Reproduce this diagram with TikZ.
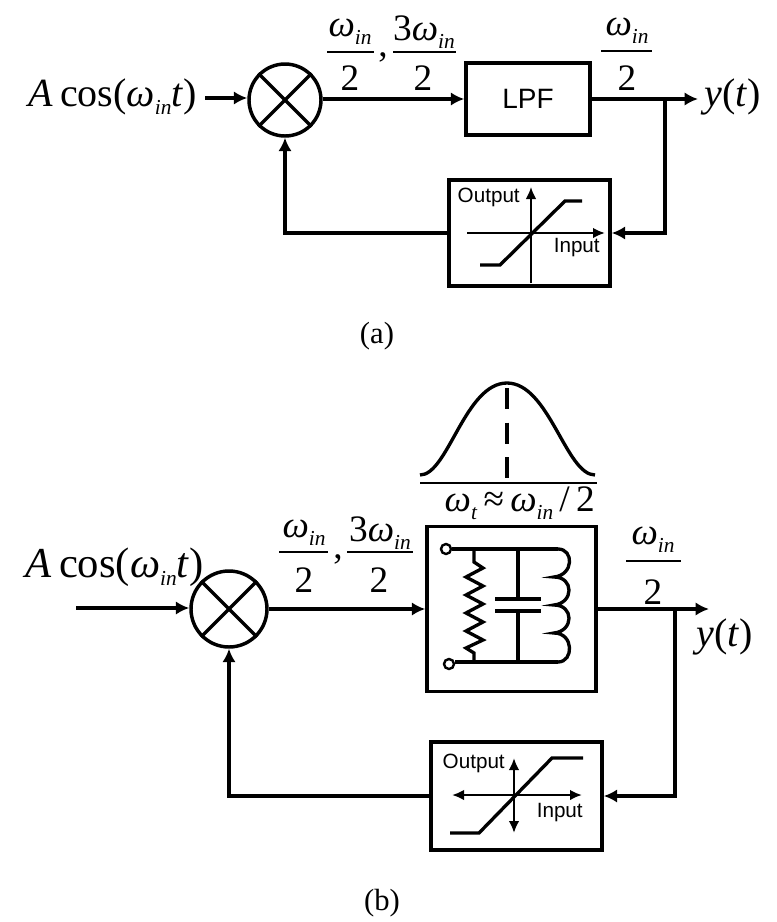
\documentclass[tikz,border=0pt]{standalone}
\usepackage{fontspec}
\setmainfont{Liberation Serif}
\setsansfont{Liberation Sans}
\usetikzlibrary{arrows.meta}
\newcommand{\wsub}[1]{\textit{ω}\raisebox{-6pt}{\fontsize{16}{16}\selectfont\textit{#1}}}
\tikzset{
  wire/.style={line width=2.5pt},
  thickwire/.style={line width=3pt},
  arr/.style={wire,-{Latex[length=10pt,width=10pt]}},
  axisline/.style={line width=1.8pt,-{Latex[length=9pt,width=8pt]}},
  axisboth/.style={line width=1.9pt,{Latex[length=9pt,width=8pt]}-{Latex[length=9pt,width=8pt]}},
  fracbar/.style={line width=1.7pt},
  blockbox/.style={draw,line width=2.6pt,inner sep=0pt},
  mixer/.style={draw,circle,line width=2.6pt,inner sep=0pt},
  pinnode/.style={draw,circle,line width=1.8pt,fill=white,inner sep=0pt,minimum size=7.5pt},
  fractext/.style={font=\fontsize{28}{28}\selectfont,inner sep=0pt},
  bigtext/.style={font=\fontsize{30}{30}\selectfont,inner sep=0pt},
  smalltext/.style={font=\sffamily\fontsize{15.5}{15.5}\selectfont,inner sep=0pt},
  captext/.style={font=\fontsize{23}{23}\selectfont,inner sep=0pt}
}
\begin{document}
\begin{tikzpicture}[x=0.75pt,y=-0.75pt]
\useasboundingbox (0,0) rectangle (776,922);
% part a
\node[mixer,minimum size=54pt] (mixa) at (285,100) {};
\node[blockbox,minimum width=93pt,minimum height=54pt,font=\sffamily\fontsize{21}{21}\selectfont] (lpf) at (528,99) {LPF};
\node[blockbox,minimum width=120.75pt,minimum height=79.5pt] (sata) at (529.5,233) {};
\node[bigtext,anchor=east] (acosa) at (197,97) {\textit{A}\,cos(\wsub{in}\textit{t})};
\node[bigtext] (ya) at (733,97) {\textit{y}(\textit{t})};
\coordinate (ina) at (205,98);
\coordinate (outa) at (698,99);
\coordinate (bra) at (665,99);
\draw (mixa.45) edge[wire] (mixa.225) (mixa.135) edge[wire] (mixa.315);
\draw[arr] (ina) -- (mixa.west |- ina);
\draw[arr] (mixa.east |- lpf.west) -- (lpf.west);
\draw[arr] (lpf.east) -- (outa);
\draw[arr] (bra) |- (sata.east);
\draw[arr,thickwire] (sata.west) -| (mixa.south);
\node[fractext] (n1a) at (350,32) {\wsub{in}};
\node[fractext] (d1a) at (350,78) {2};
\node[fractext] (n2a) at (424,32) {3\wsub{in}};
\node[fractext] (d2a) at (423,78) {2};
\node[fractext] (n3a) at (627,31) {\wsub{in}};
\node[fractext] (d3a) at (627,78) {2};
\node[fractext] (coa) at (383,57) {,};
\draw[fracbar] (327,52) -- (374,52);
\draw[fracbar] (393,52) -- (456,52);
\draw[fracbar] (601,51) -- (652,51);
\draw[axisline] (467,233) -- (605,233);
\draw[axisline,line width=1.4pt] (531,283) -- (531,187);
\draw[wire] (480,265) -- (500,265) -- (565,201) -- (582,201);
\node[smalltext,anchor=east] (oa) at (520,197) {Output};
\node[smalltext,anchor=east] (ia) at (600,248) {Input};
\node[captext] (capa) at (377,336) {(a)};
% part b
\node[mixer,minimum size=57pt] (mixb) at (229,609) {};
\node[blockbox,minimum width=126.75pt,minimum height=123.75pt] (tank) at (511.5,609) {};
\node[blockbox,minimum width=128.25pt,minimum height=81pt] (satb) at (516.5,796) {};
\node[bigtext,anchor=east,font=\fontsize{32}{32}\selectfont] (acosb) at (204,567) {\textit{A}\,cos(\wsub{in}\textit{t})};
\node[bigtext] (yb) at (725,637) {\textit{y}(\textit{t})};
\coordinate (inb) at (76,608);
\coordinate (outb) at (709,609);
\coordinate (brb) at (675,609);
\draw (mixb.45) edge[wire] (mixb.225) (mixb.135) edge[wire] (mixb.315);
\draw[arr] (inb) -- (mixb.west |- inb);
\draw[arr] (mixb.east) -- (tank.west);
\draw[arr] (tank.east) -- (outb);
\draw[arr] (brb) |- (satb.east);
\draw[arr] (satb.west) -| (mixb.south);
\node[fractext] (n1b) at (304,533) {\wsub{in}};
\node[fractext] (d1b) at (304,580) {2};
\node[fractext] (n2b) at (380,533) {3\wsub{in}};
\node[fractext] (d2b) at (379,580) {2};
\node[fractext] (n3b) at (653,540) {\wsub{in}};
\node[fractext] (d3b) at (653,592) {2};
\node[fractext] (cob) at (338,559) {,};
\draw[fracbar] (279,552) -- (328,552);
\draw[fracbar] (347,552) -- (413,552);
\draw[fracbar] (626,561) -- (681,561);
% tuned curve
\draw[wire] (420,475) .. controls (448,475) and (465,383) .. (507,383) .. controls (549,383) and (566,475) .. (595,475);
\draw[wire,dash pattern=on 16pt off 10pt] (507,388) -- (507,478);
\draw[fracbar] (420,483) -- (597,483);
\node[fractext,anchor=east] (wt) at (595,503) {\wsub{t}\,≈\,\wsub{in}\,/\,2};
% tank
\node[pinnode] (pa) at (446,549) {};
\node[pinnode] (pb) at (449,664) {};
\coordinate (wa) at (558,549);
\coordinate (wb) at (558,662);
\draw[wire] (pa) -- (wa);
\draw[wire] (pb.east |- wb) -- (wb);
\draw[wire] (474,549) -- (474,562) -- (483,568) -- (466,577) -- (483,586) -- (466,595) -- (483,604) -- (466,613) -- (483,622) -- (466,631) -- (483,640) -- (466,648) -- (474,653) -- (474,662);
\draw[wire] (518,549) -- (518,599) (495,599) -- (541,599) (495,611) -- (541,611) (518,611) -- (518,662);
\draw[wire] (wa) .. controls (574,549) and (574,575) .. (554,577) .. controls (574,577) and (574,603) .. (554,605) .. controls (574,605) and (574,631) .. (554,633) .. controls (574,633) and (574,662) .. (wb);
% limiter b
\draw[axisboth] (452,795) -- (582,795);
\draw[axisboth] (514,758) -- (514,833);
\draw[wire] (450,833) -- (479,833) -- (552,758) -- (583,758);
\node[smalltext,anchor=east] (ob) at (505,763) {Output};
\node[smalltext,anchor=east] (ib) at (583,813) {Input};
\node[captext] (capb) at (382,903) {(b)};
\end{tikzpicture}
\end{document}
